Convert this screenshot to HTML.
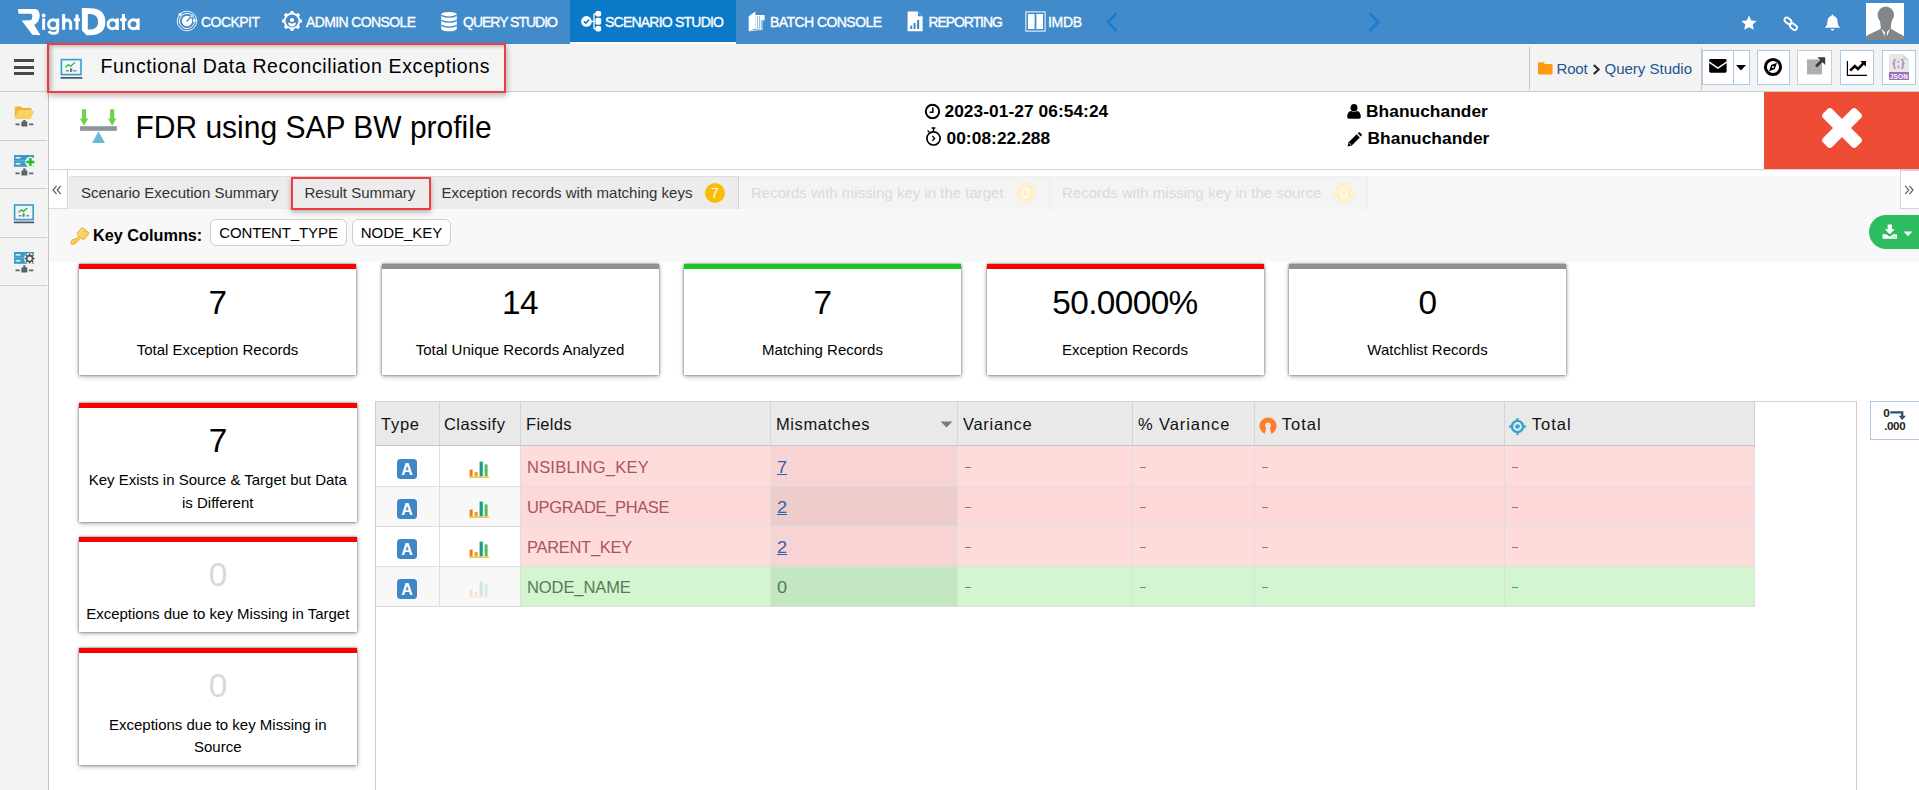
<!DOCTYPE html>
<html>
<head>
<meta charset="utf-8">
<title>RightData</title>
<style>
*{box-sizing:border-box;margin:0;padding:0}
html,body{width:1919px;height:790px;overflow:hidden;background:#fff}
body{font-family:"Liberation Sans",sans-serif;color:#000;position:relative}
.abs{position:absolute}
#nav{position:absolute;left:0;top:0;width:1919px;height:44px;background:#428bca}
#nav .active{position:absolute;left:570px;top:0;width:166px;height:44px;background:#0b78c8;border-bottom:2px solid #fbfbfb}
.ni{position:absolute;top:0;height:44px;line-height:44px;color:#fff;font-size:14px;white-space:nowrap;-webkit-text-stroke:0.35px #fff}
#bar2{position:absolute;left:0;top:44px;width:1919px;height:48px;background:#f3f3f3;border-bottom:1px solid #ccc}
#side{z-index:5;position:absolute;left:0;top:92px;width:48.7px;height:698px;background:#f3f3f3;border-right:1.7px solid #c4c4c4}
#side .sep{position:absolute;left:0;width:47px;height:1px;background:#d0d0d0}
#titlebox{z-index:6;position:absolute;left:47px;top:43px;width:459px;height:50px;border:2px solid #f33a3e;background:#f4f4f4;box-shadow:inset 3px 2px 4px -1px rgba(0,0,0,.3),1px 3px 6px rgba(0,0,0,.28)}
#hdr{position:absolute;left:48px;top:92px;width:1871px;height:78px;background:#fff;border-bottom:1px solid #d4d4d4}
#gray{position:absolute;left:48px;top:176px;width:1871px;height:86px;background:#f8f8f8}
.card{position:absolute;background:#fff;box-shadow:0 0 2.5px rgba(0,0,0,.6),0 2px 5px rgba(0,0,0,.22);text-align:center}
.card .top{position:absolute;left:0;top:0;width:100%;height:5px}
.card .num{position:absolute;left:0;width:100%;font-size:33.33px;line-height:34px;letter-spacing:-0.6px;margin-top:0.8px}
.card .lab{position:absolute;left:0;width:100%;font-size:15px;line-height:23px}
.b17{font-size:17.33px;font-weight:700;line-height:22px;white-space:nowrap;margin-top:-0.8px;letter-spacing:0.05px}
.tab{position:absolute;top:176px;height:33px;line-height:33px;font-size:15px;color:#333;white-space:nowrap}
.badge{position:absolute;top:183px;width:20px;height:20px;border-radius:10px;background:#fbbc05;color:#fff;font-size:14px;line-height:20px;text-align:center}
.chip{position:absolute;top:219px;height:27px;border:1px solid #cfcfcf;border-radius:6px;background:#fff;font-size:15px;line-height:25px;text-align:center;white-space:nowrap}

#tbox{position:absolute;left:375px;top:401px;width:1482px;height:400px;border:1px solid #cfcfcf;background:#fff}
.th{position:absolute;top:402px;height:43px;background:#e9e9e9;border-right:1px solid #d4d4d4;font-size:16.5px;line-height:44px;white-space:nowrap;color:#111;padding-left:5px}
.td{position:absolute;height:40px;border-right:1px solid #dedede;border-bottom:1px solid #dedede;font-size:16.5px;line-height:40px;white-space:nowrap;padding-left:6px}
.ab{position:absolute;width:20px;height:20px;border-radius:3.5px;background:#3f87c6;color:#fff;font-weight:700;font-size:16px;line-height:21px;text-align:center}
.dash{position:absolute;left:7.2px;top:19.7px;width:5.4px;height:1.25px;background:currentColor;opacity:.85}
.td[style*="height:41px"] .dash{top:20.7px}
</style>
</head>
<body>
<div id="nav"><div class="active"></div>
<!-- logo -->
<svg class="abs" style="left:14px;top:4px" width="132" height="36" viewBox="0 0 132 36">
 <path d="M3.8 5 H21 Q25.7 5.5 25.7 11.6 Q25.7 18 20.2 21 L26.5 31.2 L18.3 30.8 L7.7 16.5 L16.7 16.2 Q18.3 15.5 18.3 12.8 Q18.3 9.7 16.7 9.7 H4.6Z" fill="#fff"/>
 <g fill="none" stroke="#fff" stroke-width="3">
  <path d="M29.6 14.5 V25.8"/>
  <circle cx="39.1" cy="20.3" r="4.55"/><path d="M43.75 14.5 V26.2 Q43.75 29.3 39.4 29.3 Q36.2 29.3 34.8 27.2" stroke-width="2.8"/>
  <path d="M49.6 10 V25.8 M49.6 20 Q49.6 15.9 53.2 15.9 Q56.7 15.9 56.7 20 V25.8"/>
  <path d="M63 10.4 V25.8 M59.9 15.8 H66" />
  <circle cx="98.6" cy="20.3" r="4.55"/><path d="M103.4 14.4 V26" stroke-width="2.8"/>
  <path d="M109.5 10 V26 M106.2 15.8 H112.5"/>
  <circle cx="119.5" cy="20.3" r="4.55"/><path d="M124.2 14.4 V26" stroke-width="2.8"/>
 </g>
 <circle cx="29.7" cy="11.5" r="1.9" fill="#fff"/>
 <path d="M67.9 3.9 L78 4.3 Q91.3 5.5 91.3 18.2 Q91.3 30 77.5 31.2 L72.6 31.2 L67.9 26.4Z M73.8 10 H76.5 Q84.1 10.6 84.1 18.2 Q84.1 25 76.5 25.5 H73.8Z" fill="#fff" fill-rule="evenodd"/>
</svg>
<!-- cockpit -->
<svg class="abs" style="left:176px;top:10px" width="22" height="22" viewBox="0 0 22 22" fill="none" stroke="#fff">
 <circle cx="11" cy="11" r="9.8" stroke-width="0.9"/><circle cx="11" cy="11" r="7.6" stroke-width="1"/>
 <circle cx="11" cy="11" r="5.2" fill="#fff" stroke="none"/><path d="M10.6 11.5 L15 7" stroke="#428bca" stroke-width="1.3"/><path d="M14.8 7.2 L17 5" stroke-width="1.2"/>
 <circle cx="4.1" cy="4.2" r="1.5" fill="#fff" stroke="none"/><circle cx="18.4" cy="10.4" r="1.5" fill="#fff" stroke="none"/>
</svg>
<span class="ni" style="left:201px;letter-spacing:-0.54px">COCKPIT</span>
<!-- admin -->
<svg class="abs" style="left:281px;top:10px" width="22" height="22" viewBox="0 0 22 22">
 <g fill="#fff"><rect x="9.2" y="1" width="3.6" height="20" rx="1"/><rect x="9.2" y="1" width="3.6" height="20" rx="1" transform="rotate(45 11 11)"/><rect x="9.2" y="1" width="3.6" height="20" rx="1" transform="rotate(90 11 11)"/><rect x="9.2" y="1" width="3.6" height="20" rx="1" transform="rotate(135 11 11)"/></g>
 <circle cx="11" cy="11" r="8.2" fill="#fff"/><circle cx="11" cy="11" r="6.5" fill="#428bca"/>
 <circle cx="11" cy="10" r="2.1" fill="#fff"/><path d="M7 13.2 L8.2 12.6 Q11 14.8 13.8 12.6 L15 13.2 Q14 16.6 11 16.6 Q8 16.6 7 13.2Z" fill="#fff"/>
</svg>
<span class="ni" style="left:306px;letter-spacing:-0.62px">ADMIN CONSOLE</span>
<!-- query -->
<svg class="abs" style="left:440px;top:11px" width="18" height="21" viewBox="0 0 18 21" fill="#fff">
 <path d="M1.2 3.6 Q1.2 1 9 1 Q16.8 1 16.8 3.6 V17.4 Q16.8 20.2 9 20.2 Q1.2 20.2 1.2 17.4Z"/><path d="M1.2 4.4 Q9 8 16.8 4.4 M1.2 9.4 Q9 13 16.8 9.4 M1.2 14.4 Q9 18 16.8 14.4" fill="none" stroke="#428bca" stroke-width="1.2"/>
</svg>
<span class="ni" style="left:463px;letter-spacing:-1.01px">QUERY STUDIO</span>
<!-- scenario -->
<svg class="abs" style="left:581px;top:10px" width="21" height="22" viewBox="0 0 21 22">
 <circle cx="5.4" cy="11.4" r="5.3" fill="#fff"/><path d="M3 11.4 L4.8 13.2 L8 9.6" fill="none" stroke="#0b78c8" stroke-width="1.6"/>
 <path d="M10 11.4 H14 M13 3.8 V18.8 M13 3.8 H15 M13 18.8 H15" stroke="#fff" stroke-width="1.3" fill="none"/>
 <rect x="14.4" y="1" width="5.8" height="5.6" rx="1.8" fill="#fff"/><rect x="14.4" y="7.8" width="5.8" height="7" rx="1.8" fill="#fff"/><rect x="14.4" y="16" width="5.8" height="5.6" rx="1.8" fill="#fff"/>
</svg>
<span class="ni" style="left:605px;letter-spacing:-0.78px">SCENARIO STUDIO</span>
<!-- batch -->
<svg class="abs" style="left:747px;top:11px" width="20" height="21" viewBox="0 0 20 21">
 <path d="M1.7 5.3 L8.4 0.5 V17.5 L1.7 19.9Z" fill="#fff"/><path d="M8.4 3.9 H17.6 V9.3 H15.4 V18.2 H8.4Z" fill="#fff"/>
 <path d="M10.6 5 V18.2 M12.6 5 V18.2 M14.4 9 V18.2" stroke="#428bca" stroke-width="0.6"/><path d="M2 19.9 L15.4 18.4" stroke="#fff" stroke-width="0.8"/>
</svg>
<span class="ni" style="left:770px;letter-spacing:-0.56px">BATCH CONSOLE</span>
<!-- reporting -->
<svg class="abs" style="left:907px;top:11px" width="17" height="21" viewBox="0 0 17 21">
 <path d="M0.6 0.6 H10.4 L15.6 5.8 V20.2 H0.6Z" fill="#fff"/><path d="M10.4 0.6 V5.8 H15.6" fill="#428bca" stroke="#fff" stroke-width="0.9"/>
 <rect x="3.2" y="14.6" width="2" height="3.4" fill="#428bca"/><rect x="6.6" y="12" width="2" height="6" fill="#428bca"/><rect x="10" y="9" width="2.2" height="9" fill="#428bca"/>
</svg>
<span class="ni" style="left:928.5px;letter-spacing:-1.08px">REPORTING</span>
<!-- imdb -->
<svg class="abs" style="left:1024.6px;top:10.6px" width="21" height="21" viewBox="0 0 21 21">
 <rect x="0.9" y="0.9" width="19.2" height="19.2" fill="none" stroke="#fff" stroke-width="1"/><rect x="3" y="3" width="6.6" height="15" fill="#fff"/><rect x="11.4" y="3" width="6.6" height="15" fill="#fff"/>
</svg>
<span class="ni" style="left:1048px;letter-spacing:-0.33px">IMDB</span>
<svg class="abs" style="left:1105px;top:11px" width="14" height="22" viewBox="0 0 14 22"><path d="M11.5 2 L3 11 L11.5 20" fill="none" stroke="#1a7cd6" stroke-width="2.9"/></svg>
<svg class="abs" style="left:1367px;top:11px" width="14" height="22" viewBox="0 0 14 22"><path d="M2.5 2 L11 11 L2.5 20" fill="none" stroke="#1a7cd6" stroke-width="2.9"/></svg>
<!-- star -->
<svg class="abs" style="left:1741px;top:15px" width="16" height="15.4" viewBox="0 0 17 16"><path d="M8.5 0.4 L10.9 5.6 L16.6 6.2 L12.4 10 L13.6 15.6 L8.5 12.8 L3.4 15.6 L4.6 10 L0.4 6.2 L6.1 5.6Z" fill="#fff"/></svg>
<!-- link -->
<svg class="abs" style="left:1783px;top:16px" width="15.4" height="15.4" viewBox="0 0 17 17" fill="none" stroke="#fff" stroke-width="2.1"><rect x="1.2" y="2.6" width="8.4" height="5.2" rx="2.6" transform="rotate(38 5.4 5.2)"/><rect x="7.4" y="9.2" width="8.4" height="5.2" rx="2.6" transform="rotate(38 11.6 11.8)"/></svg>
<!-- bell -->
<svg class="abs" style="left:1823.6px;top:13.6px" width="17" height="18" viewBox="0 0 17 18"><path d="M8.5 0.6 Q9.6 0.6 9.6 1.9 Q13.6 3 13.6 8 Q13.6 12 16 13.8 H1 Q3.4 12 3.4 8 Q3.4 3 7.4 1.9 Q7.4 0.6 8.5 0.6Z" fill="#fff"/><path d="M6.6 15 Q8.5 18.6 10.4 15Z" fill="#fff"/></svg>
<!-- avatar -->
<div class="abs" style="left:1866px;top:3px;width:38px;height:37px;background:#fff;overflow:hidden">
<svg width="38" height="37" viewBox="0 0 38 37"><g fill="#80868a"><ellipse cx="19.8" cy="12" rx="8.2" ry="8.6"/><path d="M13.6 16 Q14.6 22 15 25.4 L19.8 30 L24.6 25.4 Q25 22 26 16Z"/><path d="M0 37 V33.4 Q1 32 5 30.4 L13.4 26.6 L15 25 L19.8 36 L24.6 25 L26.2 26.6 L33 30.4 Q37 32 38 33.4 V37Z"/><path d="M18.9 28.4 H20.7 L21.3 37 H18.3Z"/></g></svg>
</div>
</div>
<div id="bar2">
<div class="abs" style="left:14px;top:15px;width:20px;height:3px;background:#484848"></div>
<div class="abs" style="left:14px;top:21.5px;width:20px;height:3px;background:#484848"></div>
<div class="abs" style="left:14px;top:28px;width:20px;height:3px;background:#484848"></div>
<div class="abs" style="left:1529px;top:3px;width:1px;height:43px;background:#c4c4c4"></div>
<svg class="abs" style="left:1538px;top:18px" width="15" height="13" viewBox="0 0 15 13"><path d="M0 1.5 Q0 0.3 1.2 0.3 H5 Q6 0.3 6.4 1.2 L6.8 2 H13.4 Q14.6 2 14.6 3.2 V11.2 Q14.6 12.4 13.4 12.4 H1.2 Q0 12.4 0 11.2Z" fill="#ff9a0c"/></svg>
<span class="abs" style="left:1556.5px;top:15px;font-size:15px;line-height:20px;color:#1c5590;white-space:nowrap;letter-spacing:-0.15px">Root</span>
<svg class="abs" style="left:1592px;top:20px" width="9" height="11" viewBox="0 0 9 11"><path d="M1.8 1 L6.6 5.5 L1.8 10" fill="none" stroke="#2a2a2a" stroke-width="2.2"/></svg>
<span class="abs" style="left:1604.5px;top:15px;font-size:15px;line-height:20px;color:#1c5590;white-space:nowrap">Query Studio</span>
<div class="abs" style="left:1701px;top:3px;width:1px;height:43px;background:#c4c4c4"></div>
<div class="abs" style="left:1702px;top:6px;width:48px;height:35px;background:#fff;border:1px solid #a9c9e6"></div>
<div class="abs" style="left:1733px;top:6px;width:1px;height:35px;background:#a9c9e6"></div>
<svg class="abs" style="left:1709px;top:15px" width="17.8" height="13.8" viewBox="0 0 19 15"><path d="M0 1.6 Q0 0 1.6 0 H17.4 Q19 0 19 1.6 V2.4 L9.5 9 L0 2.4Z" fill="#000"/><path d="M0 4.4 L9.5 11 L19 4.4 V13.4 Q19 15 17.4 15 H1.6 Q0 15 0 13.4Z" fill="#000"/></svg>
<svg class="abs" style="left:1736px;top:21px" width="10" height="6" viewBox="0 0 10 6"><path d="M0 0 H10 L5 5.6Z" fill="#000"/></svg>
<div class="abs" style="left:1757px;top:6px;width:33px;height:35px;background:#fff;border:1px solid #a9c9e6"></div>
<svg class="abs" style="left:1763.4px;top:13.4px" width="20" height="20" viewBox="0 0 20 20"><circle cx="10" cy="10" r="7.6" fill="none" stroke="#000" stroke-width="3"/><path d="M14 5.8 L11.8 12 L6 14.2 L8.2 8Z" fill="#000"/><circle cx="10" cy="10" r="1.1" fill="#fff"/></svg>
<div class="abs" style="left:1797px;top:6px;width:35px;height:35px;background:#fff;border:1px solid #cdcdcd"></div>
<svg class="abs" style="left:1806px;top:12px" width="22" height="20" viewBox="0 0 22 20"><rect x="1" y="3.4" width="15" height="15" fill="#aeaeae"/><path d="M10 10.5 L16.5 4" stroke="#3a3a3a" stroke-width="2.6"/><path d="M11.4 1.2 H19.2 V9Z" fill="#3a3a3a"/></svg>
<div class="abs" style="left:1840px;top:6px;width:34px;height:35px;background:#fff;border:1px solid #a9c9e6"></div>
<svg class="abs" style="left:1846px;top:14px" width="22" height="19" viewBox="0 0 22 19"><path d="M1.4 3 V17.4 H21" fill="none" stroke="#000" stroke-width="1.2"/><path d="M4.2 12.6 L8.8 8 L12 11 L17.6 5.2" fill="none" stroke="#000" stroke-width="2.6"/><path d="M14.2 3 H20 V8.8Z" fill="#000"/></svg>
<div class="abs" style="left:1882px;top:6px;width:34px;height:35px;background:#fff;border:1px solid #a9c9e6"></div>
<svg class="abs" style="left:1888px;top:10px" width="22" height="27" viewBox="0 0 22 27"><path d="M1 0 H15 L21 6 V18 H1Z" fill="#e9e7e3"/><path d="M15 0 V6 H21Z" fill="#d8d5cf"/><rect x="1" y="18" width="20" height="8" fill="#9c70b6"/><text x="11" y="24.8" font-family="Liberation Sans" font-weight="700" font-size="6.4" fill="#fff" text-anchor="middle" letter-spacing="0.3">JSON</text><text x="10.8" y="12.6" font-family="Liberation Sans" font-weight="700" font-size="10" fill="#a683bf" text-anchor="middle" letter-spacing="0.6">{;}</text></svg>
</div>
<div id="side">
<div class="sep" style="top:48px"></div><div class="sep" style="top:96px"></div><div class="sep" style="top:145px"></div><div class="sep" style="top:193px"></div>
<!-- folder tree icon y~105-130 -->
<svg class="abs" style="left:12px;top:12px" width="24" height="26" viewBox="0 0 24 26"><path d="M2.8 3.8 Q2.8 2.4 4.2 2.4 H8.8 L10.4 4 H18.4 Q19.6 4 19.6 5.2 V6.6 H6.4 L2.8 14Z" fill="#f0b62a"/><path d="M6 6.8 H21.6 Q22.4 6.8 22 7.6 L18.8 14.4 Q18.4 15 17.6 15 H2.6Z" fill="#f7d25c"/><rect x="11.2" y="16" width="2.4" height="2.4" fill="#5b6468"/><rect x="9.4" y="17.6" width="6" height="5" rx="0.6" fill="#5b6468"/><rect x="3.4" y="19.4" width="4.4" height="1.8" rx="0.6" fill="#5b6468"/><rect x="17" y="19.4" width="4.4" height="1.8" rx="0.6" fill="#5b6468"/></svg>
<svg class="abs" style="left:12px;top:61px" width="24" height="26" viewBox="0 0 24 26"><rect x="2" y="2" width="20" height="11.8" fill="#3a9bc8"/><rect x="2" y="7.4" width="20" height="1" fill="#6bb6d8"/><rect x="3.6" y="4.2" width="5" height="1.3" fill="#fff"/><rect x="3.6" y="10.2" width="5" height="1.3" fill="#fff"/><circle cx="18.4" cy="9" r="5.2" fill="#f3f3f3"/><path d="M18.4 5 V13 M14.4 9 H22.4" stroke="#29b829" stroke-width="2.4"/><rect x="11.2" y="15.4" width="2.4" height="3" fill="#5b6468"/><rect x="9.4" y="17.6" width="6" height="5" rx="0.6" fill="#5b6468"/><rect x="3.4" y="19.4" width="4.4" height="1.8" rx="0.6" fill="#5b6468"/><rect x="17" y="19.4" width="4.4" height="1.8" rx="0.6" fill="#5b6468"/></svg>
<svg class="abs" style="left:12px;top:110px" width="24" height="24" viewBox="0 0 24 24"><rect x="2.6" y="3" width="18.6" height="14.6" fill="#eef6fa" stroke="#3a9bc8" stroke-width="1.6"/><path d="M6.6 10.4 L9.4 7.8 L11.4 9.6 L15.4 6" fill="none" stroke="#2db82d" stroke-width="1.3"/><rect x="10.6" y="11.4" width="2" height="3.4" fill="#777"/><rect x="6.6" y="13.2" width="3" height="1.2" fill="#777"/><rect x="14.2" y="13.2" width="3" height="1.2" fill="#777"/><rect x="1.6" y="19.6" width="20.6" height="1.6" rx="0.8" fill="#4a5a64"/></svg>
<svg class="abs" style="left:12px;top:158px" width="24" height="26" viewBox="0 0 24 26"><rect x="2" y="2" width="20" height="11.8" fill="#3a9bc8"/><rect x="2" y="7.4" width="20" height="1" fill="#6bb6d8"/><rect x="3.6" y="4.2" width="5" height="1.3" fill="#fff"/><rect x="3.6" y="10.2" width="5" height="1.3" fill="#fff"/><circle cx="17.6" cy="8.6" r="5.6" fill="#f3f3f3"/><circle cx="17.6" cy="8.6" r="3" fill="none" stroke="#4a4f52" stroke-width="1.6"/><path d="M17.6 3.6 V5.2 M17.6 12 V13.6 M12.6 8.6 H14.2 M21 8.6 H22.6 M14.1 5.1 L15.2 6.2 M20 11 L21.1 12.1 M21.1 5.1 L20 6.2 M15.2 11 L14.1 12.1" stroke="#4a4f52" stroke-width="1.5"/><rect x="11.2" y="15.4" width="2.4" height="3" fill="#5b6468"/><rect x="9.4" y="17.6" width="6" height="5" rx="0.6" fill="#5b6468"/><rect x="3.4" y="19.4" width="4.4" height="1.8" rx="0.6" fill="#5b6468"/><rect x="17" y="19.4" width="4.4" height="1.8" rx="0.6" fill="#5b6468"/></svg>
</div>
<div id="hdr">
<svg class="abs" style="left:31px;top:16px" width="39" height="36" viewBox="0 0 39 36">
<path d="M3.05 1.2 H7.15 V10.4 H9.3 L5.1 17.7 L0.9 10.4 H3.05Z" fill="#6fd14a"/><path d="M31.15 1.2 H35.25 V10.4 H37.4 L33.2 17.7 L29 10.4 H31.15Z" fill="#6fd14a"/>
<rect x="1.1" y="18.2" width="36.7" height="4.6" fill="#8c9598"/><path d="M19.5 23.3 L26 35 H13Z" fill="#6db9d8"/></svg>
<span class="abs" style="left:87.4px;top:16px;font-size:30px;line-height:40px;white-space:nowrap;transform:scaleY(1.05);transform-origin:0 74%">FDR using SAP BW profile</span>
<!-- clock -->
<svg class="abs" style="left:876px;top:11px" width="17" height="17" viewBox="0 0 17 17"><circle cx="8.5" cy="8.5" r="6.7" fill="none" stroke="#000" stroke-width="2"/><path d="M8.8 4.4 V9.2 H5.6" fill="none" stroke="#000" stroke-width="1.5"/></svg>
<span class="abs b17" style="left:896.5px;top:9px">2023-01-27 06:54:24</span>
<svg class="abs" style="left:877px;top:35px" width="17" height="20" viewBox="0 0 17 20"><circle cx="8.5" cy="11.4" r="6.6" fill="none" stroke="#000" stroke-width="1.7"/><path d="M6.6 1 H10.4 M8.5 1 V4.6 M2.6 3.4 L4.6 5.6" stroke="#000" stroke-width="1.4" fill="none"/><path d="M7.4 9 L9.6 11.4 L7.4 13.8" fill="none" stroke="#000" stroke-width="1.3"/></svg>
<span class="abs b17" style="left:898.5px;top:36px">00:08:22.288</span>
<!-- user -->
<svg class="abs" style="left:1299px;top:12px" width="14" height="15" viewBox="0 0 14 15"><ellipse cx="7" cy="3.8" rx="3.5" ry="3.8"/><path d="M0.2 13 Q0.2 7.6 4.2 7 Q7 9 9.8 7 Q13.8 7.6 13.8 13 Q13.8 14.8 12 14.8 H2 Q0.2 14.8 0.2 13Z"/></svg>
<span class="abs b17" style="left:1318px;top:9px">Bhanuchander</span>
<svg class="abs" style="left:1299px;top:40px" width="15" height="15" viewBox="0 0 15 15"><path d="M0.6 14.4 L1.6 10.2 L9.6 2.2 L12.8 5.4 L4.8 13.4Z"/><path d="M10.6 1.2 L11.4 0.4 Q12.2 -0.2 13 0.6 L14.4 2 Q15.2 2.8 14.6 3.6 L13.8 4.4Z"/><path d="M2.2 11 L4 12.8" stroke="#fff" stroke-width="0.8"/></svg>
<span class="abs b17" style="left:1319.5px;top:36px">Bhanuchander</span>
<div class="abs" style="left:1716px;top:0;width:155px;height:77px;background:#ee4c35"></div>
<svg class="abs" style="left:1773px;top:15px" width="42" height="42" viewBox="0 0 42 42"><g transform="rotate(45 21 21)" fill="#fff"><rect x="-2.6" y="14.6" width="47.2" height="12.8" rx="3.2"/><rect x="14.6" y="-2.6" width="12.8" height="47.2" rx="3.2"/></g></svg>
</div>
<div id="gray"></div>
<div class="abs" style="left:48.7px;top:170px;width:19.8px;height:38.6px;background:#fff;border-right:1.3px solid #cfcfcf;border-bottom:1px solid #dcdcdc"></div>
<svg class="abs" style="left:52px;top:185px" width="10" height="10" viewBox="0 0 10 10"><path d="M4.6 0.8 L1 5 L4.6 9.2 M8.8 0.8 L5.2 5 L8.8 9.2" fill="none" stroke="#5a5f6a" stroke-width="1.2"/></svg>
<div class="abs" style="left:68.5px;top:176px;width:670.5px;height:32.6px;background:#ececec;border-top:1px solid #dcdcdc;border-right:1px solid #d0d0d0;border-top-left-radius:4px"></div>
<div class="abs" style="left:739px;top:176px;width:629px;height:33px;background:#f4f4f4;border-top:1px solid #efefef;border-right:1px solid #ededed"></div>
<div class="abs" style="left:1049px;top:177px;width:1px;height:32px;background:#ececec"></div>
<span class="tab" style="left:81px">Scenario Execution Summary</span>
<span class="tab" style="left:304.5px">Result Summary</span>
<span class="tab" style="left:441.5px">Exception records with matching keys</span>
<div class="badge" style="left:705px">7</div>
<span class="tab" style="left:751px;color:#dadada">Records with missing key in the target</span>
<div class="badge" style="left:1016px;background:#fdf0ca">0</div>
<span class="tab" style="left:1062px;color:#dadada">Records with missing key in the source</span>
<div class="badge" style="left:1334px;background:#fdf0ca">0</div>
<div class="abs" style="left:291px;top:177px;width:140px;height:33px;border:2px solid #f33a3e;box-shadow:0 2px 5px rgba(0,0,0,.3)"></div>
<div class="abs" style="left:1900px;top:170px;width:20px;height:39px;background:#fff;border:1px solid #d4d4d4"></div>
<svg class="abs" style="left:1904px;top:185px" width="10" height="10" viewBox="0 0 10 10"><path d="M1.2 0.8 L4.8 5 L1.2 9.2 M5.4 0.8 L9 5 L5.4 9.2" fill="none" stroke="#5a5f6a" stroke-width="1.2"/></svg>
<!-- key -->
<svg class="abs" style="left:70px;top:227px" width="20" height="19" viewBox="0 0 20 19"><defs><linearGradient id="kg" x1="0" y1="0" x2="1" y2="1"><stop offset="0" stop-color="#fce98a"/><stop offset="1" stop-color="#f4c63a"/></linearGradient></defs><path d="M11.4 1.2 Q12.4 0.6 13.4 1.4 L18.2 5.2 Q19.2 6.4 18.2 7.6 L14.6 11.8 Q13.4 12.8 12.2 12 L10.8 11 L5.2 16.6 L2.2 17.4 Q1 17.4 1.2 16.2 L1.6 13.6 L3 12.2 L4 12.8 L5.2 11.4 L6.4 12 L8.6 9.6 L7.6 7.6 Q7.2 6.2 8 5.2 Z" fill="url(#kg)" stroke="#e6a63e" stroke-width="1"/><path d="M13 3.6 L15.4 5.4" stroke="#e9b24a" stroke-width="1.1"/><path d="M3.2 15.4 L9.6 9.2" stroke="#f1bd2c" stroke-width="1.2"/></svg>
<span class="abs" style="left:93px;top:224px;font-size:16.25px;font-weight:700;line-height:22px;white-space:nowrap">Key Columns:</span>
<div class="chip" style="left:210px;width:137px;letter-spacing:-0.12px">CONTENT_TYPE</div>
<div class="chip" style="left:352px;width:99px">NODE_KEY</div>
<div class="abs" style="left:1869px;top:215px;width:70px;height:34px;border-radius:17px;background:#2bbd5f"></div>
<svg class="abs" style="left:1881.5px;top:223.5px" width="16" height="16" viewBox="0 0 17 17" fill="#fff"><path d="M6 0.6 H10.6 V5.6 H13.6 L8.3 11 L3 5.6 H6Z"/><path d="M0.6 11 H4.6 L8.3 13.6 L12 11 H16 V15.6 H0.6Z"/><rect x="11" y="13.4" width="1.2" height="1" fill="#2bbd5f"/><rect x="13.2" y="13.4" width="1.2" height="1" fill="#2bbd5f"/></svg>
<svg class="abs" style="left:1903px;top:230.5px" width="10.5" height="6" viewBox="0 0 10 6"><path d="M0.4 0.4 H9.2 L4.8 5.2Z" fill="#fff"/></svg>

<div id="titlebox">
<svg class="abs" style="left:10px;top:13px" width="25" height="23" viewBox="0 0 25 23"><rect x="2.4" y="1.6" width="19.6" height="15" fill="#eef6fa" stroke="#3a9bc8" stroke-width="1.6"/><path d="M6.4 9.4 L9.4 6.6 L11.4 8.4 L15.8 4.6" fill="none" stroke="#2db82d" stroke-width="1.3"/><rect x="11" y="10.4" width="2.2" height="3.6" fill="#777"/><rect x="6.8" y="12.2" width="3.2" height="1.2" fill="#777"/><rect x="14.2" y="12.2" width="3.2" height="1.2" fill="#777"/><rect x="1.4" y="19" width="22.2" height="1.7" rx="0.8" fill="#4a5a64"/></svg>
<span class="abs" style="left:51.5px;top:9px;font-size:19.5px;line-height:24px;letter-spacing:0.62px;white-space:nowrap;color:#000">Functional Data Reconciliation Exceptions</span>
</div>
<div class="card" style="left:79px;top:264px;width:277px;height:111px"><div class="top" style="background:#fa0000"></div><div class="num" style="top:21px;color:#000">7</div><div class="lab" style="top:74px">Total Exception Records</div></div>
<div class="card" style="left:381.5px;top:264px;width:277px;height:111px"><div class="top" style="background:#909090"></div><div class="num" style="top:21px;color:#000">14</div><div class="lab" style="top:74px">Total Unique Records Analyzed</div></div>
<div class="card" style="left:684px;top:264px;width:277px;height:111px"><div class="top" style="background:#14c81e"></div><div class="num" style="top:21px;color:#000">7</div><div class="lab" style="top:74px">Matching Records</div></div>
<div class="card" style="left:986.5px;top:264px;width:277px;height:111px"><div class="top" style="background:#fa0000"></div><div class="num" style="top:21px;color:#000">50.0000%</div><div class="lab" style="top:74px">Exception Records</div></div>
<div class="card" style="left:1289px;top:264px;width:277px;height:111px"><div class="top" style="background:#909090"></div><div class="num" style="top:21px;color:#000">0</div><div class="lab" style="top:74px">Watchlist Records</div></div>
<div class="card" style="left:79px;top:403px;width:277.5px;height:118.5px"><div class="top" style="background:#fa0000"></div><div class="num" style="top:20px;color:#000">7</div><div class="lab" style="top:65px">Key Exists in Source &amp; Target but Data<br>is Different</div></div>
<div class="card" style="left:79px;top:537px;width:277.5px;height:95px"><div class="top" style="background:#fa0000"></div><div class="num" style="top:20px;color:#d8d8d8">0</div><div class="lab" style="top:65px">Exceptions due to key Missing in Target</div></div>
<div class="card" style="left:79px;top:648px;width:277.5px;height:117px"><div class="top" style="background:#fa0000"></div><div class="num" style="top:20px;color:#d8d8d8">0</div><div class="lab" style="top:65.5px;line-height:22px">Exceptions due to key Missing in<br>Source</div></div>
<div id="tbox"></div>
<div class="th" style="left:376px;width:64px;padding-left:5px;letter-spacing:0.76px">Type</div>
<div class="th" style="left:440px;width:81px;padding-left:4px;letter-spacing:0.45px">Classify</div>
<div class="th" style="left:521px;width:250px;padding-left:5px;letter-spacing:0.3px">Fields</div>
<div class="th" style="left:771px;width:187px;padding-left:5px;letter-spacing:0.6px">Mismatches</div>
<div class="th" style="left:958px;width:175px;padding-left:5px;letter-spacing:0.69px">Variance</div>
<div class="th" style="left:1133px;width:122px;padding-left:5px;letter-spacing:0.91px">% Variance</div>
<div class="th" style="left:1255px;width:250px;padding-left:26.8px;letter-spacing:1.0px">Total</div>
<div class="th" style="left:1505px;width:249.5px;padding-left:26.8px;letter-spacing:1.0px">Total</div>
<div class="abs" style="left:376px;top:445px;width:1378.5px;height:1px;background:#c6c6c6"></div>
<svg class="abs" style="left:940px;top:421px" width="13" height="7" viewBox="0 0 13 7"><path d="M0.6 0.6 H12.4 L6.5 6.4Z" fill="#7a7a7a"/></svg>
<svg class="abs" style="left:1258.6px;top:416.6px" width="18" height="18" viewBox="0 0 18 18"><circle cx="9" cy="9" r="8.5" fill="#ff7c2a"/><circle cx="9" cy="8.4" r="2.8" fill="#e9e9e9"/><path d="M7.6 9.6 L5.6 17.2 Q9 18.6 12.4 17.2 L10.4 9.6Z" fill="#e9e9e9"/></svg>
<svg class="abs" style="left:1508px;top:416.5px" width="19" height="19" viewBox="0 0 19 19"><circle cx="9.5" cy="9.5" r="5.6" fill="none" stroke="#35a2cc" stroke-width="2.4"/><circle cx="9.5" cy="9.5" r="2.3" fill="#35a2cc"/><path d="M9.5 0.9 V3.4 M9.5 15.6 V18.1 M0.9 9.5 H3.4 M15.6 9.5 H18.1" stroke="#35a2cc" stroke-width="2.1"/></svg>
<div class="td" style="left:376px;top:446px;height:41px;line-height:42px;width:64px;background:#fff"></div>
<div class="td" style="left:440px;top:446px;height:41px;line-height:42px;width:81px;background:#fff"></div>
<div class="td" style="left:521px;top:446px;height:41px;line-height:42px;width:250px;background:#ffdcdc;color:#a8545e;letter-spacing:0.22px">NSIBLING_KEY</div>
<div class="td" style="left:771px;top:446px;height:41px;line-height:42px;width:187px;background:#f7d3d3;color:#315fae"><span style="text-decoration:underline;display:inline-block;transform:scaleX(1.1);transform-origin:left center">7</span></div>
<div class="td" style="left:958px;top:446px;height:41px;line-height:42px;width:175px;background:#ffdcdc;color:#a8545e;padding-left:6px"><i class="dash"></i></div>
<div class="td" style="left:1133px;top:446px;height:41px;line-height:42px;width:122px;background:#ffdcdc;color:#a8545e;padding-left:6px"><i class="dash"></i></div>
<div class="td" style="left:1255px;top:446px;height:41px;line-height:42px;width:250px;background:#ffdcdc;color:#a8545e;padding-left:6px"><i class="dash"></i></div>
<div class="td" style="left:1505px;top:446px;height:41px;line-height:42px;width:249.5px;background:#ffdcdc;color:#a8545e;padding-left:6px"><i class="dash"></i></div>
<div class="ab" style="left:397px;top:459px">A</div>
<svg class="abs" style="left:469px;top:461px;opacity:1" width="20" height="18" viewBox="0 0 20 18"><rect x="0.6" y="8.6" width="3" height="7" fill="#e67e22"/><rect x="5.6" y="11" width="3" height="4.6" fill="#f39c12"/><rect x="10.6" y="0.6" width="3.2" height="15" fill="#16a085"/><rect x="15.6" y="3.4" width="3" height="12.2" fill="#5cb85c"/><rect x="0" y="15.4" width="20" height="1.6" fill="#f6c945"/></svg>
<div class="td" style="left:376px;top:487px;width:64px;background:#f8f8f8"></div>
<div class="td" style="left:440px;top:487px;width:81px;background:#f8f8f8"></div>
<div class="td" style="left:521px;top:487px;width:250px;background:#fcd8d8;color:#a8545e;letter-spacing:-0.35px">UPGRADE_PHASE</div>
<div class="td" style="left:771px;top:487px;width:187px;background:#efcccc;color:#315fae"><span style="text-decoration:underline;display:inline-block;transform:scaleX(1.1);transform-origin:left center">2</span></div>
<div class="td" style="left:958px;top:487px;width:175px;background:#fcd8d8;color:#a8545e;padding-left:6px"><i class="dash"></i></div>
<div class="td" style="left:1133px;top:487px;width:122px;background:#fcd8d8;color:#a8545e;padding-left:6px"><i class="dash"></i></div>
<div class="td" style="left:1255px;top:487px;width:250px;background:#fcd8d8;color:#a8545e;padding-left:6px"><i class="dash"></i></div>
<div class="td" style="left:1505px;top:487px;width:249.5px;background:#fcd8d8;color:#a8545e;padding-left:6px"><i class="dash"></i></div>
<div class="ab" style="left:397px;top:499px">A</div>
<svg class="abs" style="left:469px;top:501px;opacity:1" width="20" height="18" viewBox="0 0 20 18"><rect x="0.6" y="8.6" width="3" height="7" fill="#e67e22"/><rect x="5.6" y="11" width="3" height="4.6" fill="#f39c12"/><rect x="10.6" y="0.6" width="3.2" height="15" fill="#16a085"/><rect x="15.6" y="3.4" width="3" height="12.2" fill="#5cb85c"/><rect x="0" y="15.4" width="20" height="1.6" fill="#f6c945"/></svg>
<div class="td" style="left:376px;top:527px;width:64px;background:#fff"></div>
<div class="td" style="left:440px;top:527px;width:81px;background:#fff"></div>
<div class="td" style="left:521px;top:527px;width:250px;background:#ffdcdc;color:#a8545e;letter-spacing:-0.3px">PARENT_KEY</div>
<div class="td" style="left:771px;top:527px;width:187px;background:#f7d3d3;color:#315fae"><span style="text-decoration:underline;display:inline-block;transform:scaleX(1.1);transform-origin:left center">2</span></div>
<div class="td" style="left:958px;top:527px;width:175px;background:#ffdcdc;color:#a8545e;padding-left:6px"><i class="dash"></i></div>
<div class="td" style="left:1133px;top:527px;width:122px;background:#ffdcdc;color:#a8545e;padding-left:6px"><i class="dash"></i></div>
<div class="td" style="left:1255px;top:527px;width:250px;background:#ffdcdc;color:#a8545e;padding-left:6px"><i class="dash"></i></div>
<div class="td" style="left:1505px;top:527px;width:249.5px;background:#ffdcdc;color:#a8545e;padding-left:6px"><i class="dash"></i></div>
<div class="ab" style="left:397px;top:539px">A</div>
<svg class="abs" style="left:469px;top:541px;opacity:1" width="20" height="18" viewBox="0 0 20 18"><rect x="0.6" y="8.6" width="3" height="7" fill="#e67e22"/><rect x="5.6" y="11" width="3" height="4.6" fill="#f39c12"/><rect x="10.6" y="0.6" width="3.2" height="15" fill="#16a085"/><rect x="15.6" y="3.4" width="3" height="12.2" fill="#5cb85c"/><rect x="0" y="15.4" width="20" height="1.6" fill="#f6c945"/></svg>
<div class="td" style="left:376px;top:567px;width:64px;background:#f8f8f8"></div>
<div class="td" style="left:440px;top:567px;width:81px;background:#f8f8f8"></div>
<div class="td" style="left:521px;top:567px;width:250px;background:#d3f6d1;color:#557a55;letter-spacing:-0.09px">NODE_NAME</div>
<div class="td" style="left:771px;top:567px;width:187px;background:#c3e8c1;color:#557a55"><span style="display:inline-block;transform:scaleX(1.1);transform-origin:left center">0</span></div>
<div class="td" style="left:958px;top:567px;width:175px;background:#d3f6d1;color:#557a55;padding-left:6px"><i class="dash"></i></div>
<div class="td" style="left:1133px;top:567px;width:122px;background:#d3f6d1;color:#557a55;padding-left:6px"><i class="dash"></i></div>
<div class="td" style="left:1255px;top:567px;width:250px;background:#d3f6d1;color:#557a55;padding-left:6px"><i class="dash"></i></div>
<div class="td" style="left:1505px;top:567px;width:249.5px;background:#d3f6d1;color:#557a55;padding-left:6px"><i class="dash"></i></div>
<div class="ab" style="left:397px;top:579px">A</div>
<svg class="abs" style="left:469px;top:581px;opacity:0.18" width="20" height="18" viewBox="0 0 20 18"><rect x="0.6" y="8.6" width="3" height="7" fill="#e67e22"/><rect x="5.6" y="11" width="3" height="4.6" fill="#f39c12"/><rect x="10.6" y="0.6" width="3.2" height="15" fill="#16a085"/><rect x="15.6" y="3.4" width="3" height="12.2" fill="#5cb85c"/><rect x="0" y="15.4" width="20" height="1.6" fill="#f6c945"/></svg>
<div class="abs" style="left:1870px;top:401px;width:60px;height:39px;border:1px solid #a9c9e6;background:#fff"></div>
<svg class="abs" style="left:1881px;top:405.8px" width="30" height="27.8" viewBox="0 0 28 26"><text x="2" y="10.6" font-family="Liberation Sans" font-weight="700" font-size="11" fill="#222">0</text><path d="M8.6 6 H19.8 V10" fill="none" stroke="#34506e" stroke-width="2.2"/><path d="M16.4 9.2 H23.4 L19.8 13Z" fill="#34506e"/><text x="3" y="22.6" font-family="Liberation Sans" font-weight="700" font-size="10.8" fill="#222" letter-spacing="-0.35">.000</text></svg>
</body>
</html>
